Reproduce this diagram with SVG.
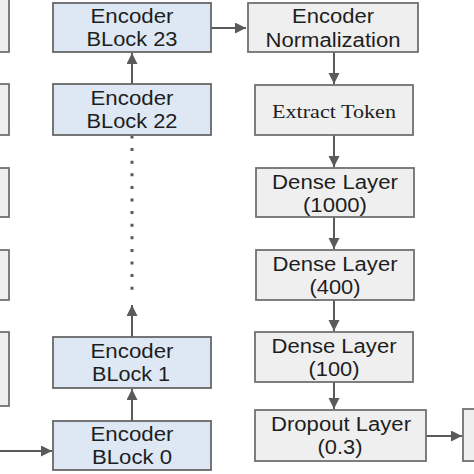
<svg xmlns="http://www.w3.org/2000/svg" width="474" height="474" viewBox="0 0 474 474">
<style>
.b{fill:#dde8f4;stroke:#676767;stroke-width:1.8}
.g{fill:#efefef;stroke:#707070;stroke-width:1.8}
.t{font-family:"Liberation Sans",Arial,sans-serif;font-size:19.5px;fill:#1e1e1e;text-anchor:middle}
.s{font-family:"Liberation Serif","Times New Roman",serif;font-size:18px;fill:#1e1e1e;text-anchor:middle}
.c{stroke:#5a5a5a;stroke-width:2;fill:none}
</style>
<defs>
<marker id="a" markerWidth="12" markerHeight="12" refX="11" refY="5.5" orient="auto" markerUnits="userSpaceOnUse">
<path d="M0,0 L11,5.5 L0,11 z" fill="#5a5a5a"/>
</marker>
</defs>
<rect width="474" height="474" fill="#fff"/>
<g id="left-partial">
<rect class="g" x="-20" y="-2" width="29" height="54"/>
<rect class="g" x="-20" y="84" width="29" height="51"/>
<rect class="g" x="-20" y="168" width="29" height="49"/>
<rect class="g" x="-20" y="250" width="29" height="50"/>
<rect class="g" x="-20" y="332" width="29" height="74"/>
</g>
<g id="connectors">
<line class="c" x1="211" y1="28" x2="246" y2="28" marker-end="url(#a)"/>
<line class="c" x1="132" y1="84" x2="132" y2="53" marker-end="url(#a)"/>
<line x1="132" y1="135.5" x2="132" y2="292" stroke="#5a5a5a" stroke-width="3" stroke-dasharray="3,9.6"/>
<line class="c" x1="132" y1="337" x2="132" y2="305" marker-end="url(#a)"/>
<line class="c" x1="132" y1="421" x2="132" y2="389" marker-end="url(#a)"/>
<line class="c" x1="0" y1="451" x2="52" y2="451" marker-end="url(#a)"/>
<line class="c" x1="334" y1="52" x2="334" y2="84" marker-end="url(#a)"/>
<line class="c" x1="334" y1="135" x2="334" y2="167" marker-end="url(#a)"/>
<line class="c" x1="334" y1="217" x2="334" y2="249" marker-end="url(#a)"/>
<line class="c" x1="334" y1="300" x2="334" y2="331" marker-end="url(#a)"/>
<line class="c" x1="334" y1="382" x2="334" y2="409" marker-end="url(#a)"/>
<line class="c" x1="426" y1="436" x2="462" y2="436" marker-end="url(#a)"/>
</g>
<g id="block23"><rect class="b" x="53" y="3" width="158" height="49"/><text class="t" x="132" y="23" textLength="83" lengthAdjust="spacingAndGlyphs">Encoder</text><text class="t" x="132" y="46" textLength="91" lengthAdjust="spacingAndGlyphs">BLock 23</text></g>
<g id="block22"><rect class="b" x="53" y="84" width="158" height="51"/><text class="t" x="132" y="105" textLength="83" lengthAdjust="spacingAndGlyphs">Encoder</text><text class="t" x="132" y="128" textLength="91" lengthAdjust="spacingAndGlyphs">BLock 22</text></g>
<g id="block1"><rect class="b" x="53" y="337" width="158" height="51"/><text class="t" x="132" y="358" textLength="83" lengthAdjust="spacingAndGlyphs">Encoder</text><text class="t" x="131" y="381" textLength="78" lengthAdjust="spacingAndGlyphs">BLock 1</text></g>
<g id="block0"><rect class="b" x="53" y="421" width="158" height="49"/><text class="t" x="132" y="441" textLength="83" lengthAdjust="spacingAndGlyphs">Encoder</text><text class="t" x="132" y="464" textLength="80" lengthAdjust="spacingAndGlyphs">BLock 0</text></g>
<g id="norm"><rect class="g" x="248" y="3" width="170" height="49"/><text class="t" x="333" y="23" textLength="82" lengthAdjust="spacingAndGlyphs">Encoder</text><text class="t" x="333" y="46.5" textLength="135" lengthAdjust="spacingAndGlyphs">Normalization</text></g>
<g id="extract"><rect class="g" x="255" y="85" width="158" height="50"/><text class="s" x="334" y="118" textLength="124" lengthAdjust="spacingAndGlyphs">Extract Token</text></g>
<g id="dense1000"><rect class="g" x="256" y="168" width="158" height="49"/><text class="t" x="335" y="189" textLength="126" lengthAdjust="spacingAndGlyphs">Dense Layer</text><text class="t" x="335" y="212" textLength="64" lengthAdjust="spacingAndGlyphs">(1000)</text></g>
<g id="dense400"><rect class="g" x="256" y="250" width="158" height="50"/><text class="t" x="335" y="271" textLength="125" lengthAdjust="spacingAndGlyphs">Dense Layer</text><text class="t" x="335" y="294" textLength="51" lengthAdjust="spacingAndGlyphs">(400)</text></g>
<g id="dense100"><rect class="g" x="255" y="332" width="158" height="50"/><text class="t" x="334" y="353" textLength="125" lengthAdjust="spacingAndGlyphs">Dense Layer</text><text class="t" x="334" y="376" textLength="51" lengthAdjust="spacingAndGlyphs">(100)</text></g>
<g id="dropout"><rect class="g" x="255" y="410" width="171" height="51"/><text class="t" x="341" y="431" textLength="140" lengthAdjust="spacingAndGlyphs">Dropout Layer</text><text class="t" x="340" y="454" textLength="45" lengthAdjust="spacingAndGlyphs">(0.3)</text></g>
<g id="right-partial"><rect class="g" x="463" y="409" width="30" height="52"/></g>
</svg>
